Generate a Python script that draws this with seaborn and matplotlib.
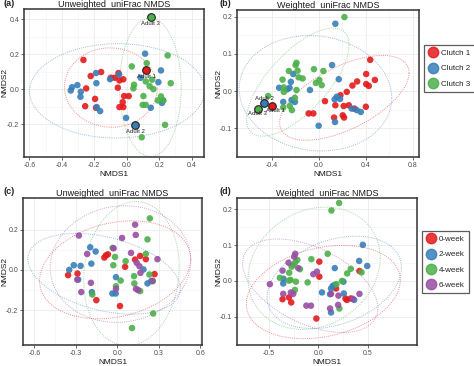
import numpy as np
import pandas as pd
import matplotlib
matplotlib.use('Agg')
import matplotlib.pyplot as plt
import seaborn as sns

# ---- panel (a): unweighted UniFrac, by clutch
a_clutch1 = [(-0.267, 0.167), (-0.222, 0.075), (-0.158, 0.098), (-0.25, 0.004), (-0.195, -0.056),
             (-0.256, -0.098), (-0.189, -0.107), (-0.098, 0.065), (-0.074, 0.065), (-0.051, 0.092),
             (-0.045, 0.05), (-0.021, 0.056), (-0.055, 0.008), (-0.016, -0.04), (0.012, -0.04),
             (-0.025, -0.075), (-0.045, -0.103), (-0.021, -0.103), (0.119, 0.111)]
a_clutch2 = [(-0.345, -0.008), (-0.337, 0.011), (-0.304, 0.023), (-0.283, -0.015), (-0.285, -0.044),
             (-0.189, 0.092), (-0.187, 0.034), (-0.185, -0.103), (-0.164, -0.126), (-0.103, 0.057),
             (-0.047, 0.084), (-0.004, -0.165), (0.113, 0.203), (0.086, 0.065), (0.195, 0.04),
             (0.211, 0.107), (0.222, -0.065), (0.217, -0.079), (0.148, -0.107), (0.053, -0.205)]
a_clutch3 = [(0.148, 0.414), (0.252, 0.193), (0.031, 0.130), (0.123, 0.149), (0.271, 0.034),
             (0.045, 0.025), (0.041, 0.004), (0.117, 0.044), (0.156, 0.054), (0.141, 0.017),
             (0.164, 0.0), (0.103, -0.04), (0.098, -0.09), (0.117, -0.09), (0.191, -0.065),
             (0.211, -0.042), (0.226, -0.065), (0.236, -0.205), (0.092, -0.276)]
a_adult_labels = ['Adult 1', 'Adult 2', 'Adult 3']
a_adult_pts = [(0.119, 0.111), (0.053, -0.205), (0.148, 0.414)]
a_adult_group = ['Clutch 1', 'Clutch 2', 'Clutch 3']

# ---- panel (b): weighted UniFrac, by clutch
b_clutch1 = [(0.438, 0.084), (0.404, 0.046), (0.478, 0.030), (0.327, 0.026), (0.287, 0.015),
             (0.404, 0.019), (0.426, 0.014), (0.239, -0.002), (0.185, -0.011), (0.054, -0.027),
             (0.142, -0.038), (0.213, -0.040), (0.256, -0.038), (0.304, -0.047), (0.401, -0.042),
             (0.131, -0.071), (0.205, -0.065), (0.216, -0.071), (-0.085, -0.060), (-0.045, -0.060),
             (-0.395, -0.040)]
b_clutch2 = [(0.142, 0.181), (0.114, 0.070), (0.171, 0.032), (-0.336, 0.009), (-0.236, 0.025),
             (-0.216, 0.046), (-0.267, 0.005), (-0.247, 0.009), (-0.074, 0.003), (-0.301, -0.029),
             (-0.230, -0.024), (-0.202, -0.029), (0.154, -0.015), (0.182, -0.021), (0.136, -0.022),
             (0.281, -0.047), (0.324, -0.051), (0.358, -0.056), (0.139, -0.083), (0.0, -0.093),
             (-0.461, -0.031)]
b_clutch3 = [(0.219, 0.199), (-0.188, 0.076), (-0.196, 0.070), (-0.253, 0.054), (-0.179, 0.055),
             (-0.307, 0.031), (-0.170, 0.037), (-0.136, 0.034), (-0.040, 0.059), (0.040, 0.054),
             (0.006, 0.030), (-0.023, 0.022), (0.026, 0.016), (-0.296, 0.010), (-0.296, -0.002),
             (-0.188, 0.003), (-0.202, -0.018), (-0.429, -0.013), (-0.245, -0.040), (-0.301, -0.044),
             (-0.227, -0.051), (-0.517, -0.049)]
b_adult_pts = [(-0.395, -0.040), (-0.461, -0.031), (-0.517, -0.049)]

# ---- panel (c): unweighted UniFrac, by age
c_week0 = [(-0.356, -0.026), (-0.288, -0.018), (-0.152, -0.150), (-0.094, 0.061), (-0.082, 0.072),
           (-0.068, 0.077), (0.056, 0.015), (0.128, 0.051), (0.165, 0.069), (0.206, 0.053),
           (0.269, -0.021), (0.019, -0.179)]
c_week2 = [(-0.348, 0.0), (-0.315, 0.023), (-0.266, 0.020), (-0.283, -0.048), (-0.196, 0.112),
           (-0.157, 0.091), (-0.188, 0.031), (-0.184, -0.110), (-0.036, -0.117), (-0.012, -0.117),
           (-0.010, -0.036), (0.189, 0.002), (0.218, -0.067), (0.244, -0.056)]
c_week4 = [(0.235, 0.255), (0.218, 0.151), (0.206, 0.079), (-0.034, 0.109), (-0.017, 0.064),
           (-0.029, 0.023), (0.060, 0.043), (0.024, -0.053), (-0.010, -0.081), (0.121, -0.031),
           (0.123, -0.067), (0.165, -0.105), (0.232, -0.023), (0.256, -0.056), (0.259, -0.216),
           (0.106, -0.288), (-0.181, -0.122)]
c_week6 = [(-0.278, 0.170), (0.128, 0.224), (0.133, 0.173), (0.034, 0.158), (-0.218, 0.079),
           (-0.027, 0.107), (0.099, 0.084), (0.140, 0.035), (0.160, 0.018), (0.167, -0.015),
           (0.290, 0.053), (-0.290, -0.048), (-0.191, -0.064), (-0.261, -0.110), (-0.010, -0.094),
           (0.135, -0.094), (0.150, -0.100), (0.254, -0.054)]

# ---- panel (d): weighted UniFrac, by age
d_week0 = [(0.010, 0.054), (0.010, 0.012), (-0.364, -0.051), (-0.299, -0.046), (-0.276, -0.060),
           (-0.020, -0.105), (0.180, -0.021), (0.276, -0.049), (0.290, -0.053), (0.330, -0.049),
           (0.418, 0.028)]
d_week2 = [(0.452, 0.101), (0.415, 0.056), (0.497, 0.042), (0.167, 0.036), (0.037, -0.032),
           (0.255, -0.002), (0.129, -0.021), (0.146, -0.014), (0.167, -0.011), (0.119, -0.037),
           (0.259, -0.035), (0.364, -0.053), (-0.354, 0.006), (-0.357, -0.007), (0.129, -0.088)]
d_week4 = [(0.211, 0.218), (0.133, 0.197), (0.095, 0.076), (-0.071, 0.061), (-0.214, 0.059),
           (-0.187, 0.033), (-0.235, 0.052), (-0.255, 0.045), (-0.272, 0.040), (-0.296, 0.023),
           (-0.391, 0.009), (-0.228, -0.002), (-0.282, 0.003), (-0.299, 0.001), (-0.238, -0.025),
           (-0.109, -0.004), (0.293, 0.021), (0.330, 0.034), (0.241, 0.0), (0.184, -0.009),
           (0.439, 0.024), (0.214, -0.077)]
d_week6 = [(-0.235, 0.076), (-0.245, 0.068), (-0.303, 0.051), (-0.364, 0.029), (-0.204, 0.036),
           (-0.357, -0.036), (-0.493, -0.009), (-0.279, -0.032), (-0.255, -0.036), (-0.051, 0.019),
           (-0.014, 0.026), (-0.122, -0.069), (-0.075, -0.069), (0.129, -0.036), (0.204, -0.041),
           (0.201, -0.067), (0.418, -0.036), (0.119, -0.077), (0.350, -0.050)]

clutch_names = ['Clutch 1', 'Clutch 2', 'Clutch 3']
week_names = ['0-week', '2-week', '4-week', '6-week']
colors = ['#E41A1C', '#377EB8', '#4DAF4A', '#984EA3']


def make_df(groups, names):
    rows = []
    for name, pts in zip(names, groups):
        for x, y in pts:
            rows.append({'NMDS1': x, 'NMDS2': y, 'group': name})
    return pd.DataFrame(rows)


def ellipse_path(df, level=0.95, npts=200):
    # 95% normal-theory ellipse, like stat_ellipse(type = "norm")
    pts = df[['NMDS1', 'NMDS2']].to_numpy()
    center = pts.mean(axis=0)
    cov = np.cov(pts, rowvar=False)
    dfd = len(pts) - 1
    fq = dfd / 2 * ((1 - level) ** (-2 / dfd) - 1)
    radius = np.sqrt(2 * fq)
    t = np.linspace(0, 2 * np.pi, npts)
    circle = np.column_stack([np.cos(t), np.sin(t)])
    chol = np.linalg.cholesky(cov)
    return center + radius * circle @ chol.T


sns.set_theme(style='whitegrid')
plt.rcParams['font.family'] = ['Liberation Sans', 'DejaVu Sans']

fig = plt.figure(figsize=(4.74, 3.66), dpi=100)
ax_a = fig.add_axes([24 / 474, 1 - 157 / 366, 180 / 474, 148 / 366])
ax_b = fig.add_axes([237 / 474, 1 - 157 / 366, 182 / 474, 147 / 366])
ax_c = fig.add_axes([23 / 474, 1 - 345 / 366, 179 / 474, 147 / 366])
ax_d = fig.add_axes([237 / 474, 1 - 345 / 366, 180 / 474, 147 / 366])

panels = [
    (ax_a, make_df([a_clutch1, a_clutch2, a_clutch3], clutch_names), clutch_names,
     'Unweighted  uniFrac NMDS', (-0.633, 0.476), (-0.389, 0.459),
     [-0.6, -0.4, -0.2, 0.0, 0.2, 0.4], [-0.2, 0.0, 0.2, 0.4], -0.089),
    (ax_b, make_df([b_clutch1, b_clutch2, b_clutch3], clutch_names), clutch_names,
     'Weighted  uniFrac NMDS', (-0.694, 0.853), (-0.177, 0.218),
     [-0.4, 0.0, 0.4, 0.8], [-0.1, 0.0, 0.1, 0.2], -0.082),
    (ax_c, make_df([c_week0, c_week2, c_week4, c_week6], week_names), week_names,
     'Unweighted  uniFrac NMDS', (-0.682, 0.612), (-0.372, 0.356),
     [-0.6, -0.3, 0.0, 0.3, 0.6], [-0.2, 0.0, 0.2], -0.084),
    (ax_d, make_df([d_week0, d_week2, d_week4, d_week6], week_names), week_names,
     'Weighted  uniFrac NMDS', (-0.827, 1.003), (-0.179, 0.232),
     [-0.5, 0.0, 0.5], [-0.1, 0.0, 0.1, 0.2], -0.083),
]

for ax, df, names, title, xlim, ylim, xt, yt, ylab_x in panels:
    pal = dict(zip(names, colors[:len(names)]))
    for name in names:
        path = ellipse_path(df[df['group'] == name])
        ax.plot(path[:, 0], path[:, 1], ls=(0, (1, 1.2)), lw=0.7, color=pal[name], alpha=0.5)
    sns.scatterplot(data=df, x='NMDS1', y='NMDS2', hue='group', hue_order=names, palette=pal,
                    s=22, alpha=0.9, linewidth=0, legend=False, ax=ax, zorder=3)
    ax.set_xlim(*xlim)
    ax.set_ylim(*ylim)
    ax.set_xticks(xt)
    ax.set_yticks(yt)
    ax.set_xticklabels([f'{v:.1f}' for v in xt])
    ax.set_yticklabels([f'{v:.1f}' for v in yt])
    ax.set_xticks([(xt[i] + xt[i + 1]) / 2 for i in range(len(xt) - 1)], minor=True)
    ax.set_yticks([(yt[i] + yt[i + 1]) / 2 for i in range(len(yt) - 1)], minor=True)
    ax.grid(which='major', color='#EBEBEB', lw=0.6)
    ax.grid(which='minor', color='#F4F4F4', lw=0.4)
    ax.tick_params(which='major', labelsize=5, labelcolor='#4D4D4D', length=2, width=0.5,
                   color='#333333', pad=1.5, bottom=True, left=True)
    ax.tick_params(which='minor', length=0)
    for sp in ax.spines.values():
        sp.set_edgecolor('#333333')
        sp.set_linewidth(1.1)
    ax.set_xlabel('NMDS1', fontsize=6, labelpad=1.5, color='#1A1A1A')
    ax.set_ylabel('NMDS2', fontsize=6, color='#1A1A1A')
    ax.yaxis.set_label_coords(ylab_x, 0.5)
    ax.set_title(title, fontsize=6.5, pad=1.5, color='#1A1A1A')

fig.text(4 / 474, 1 - 4 / 366, '(a)', fontsize=6.5, fontweight='bold', va='center', ha='left')
fig.text(220 / 474, 1 - 4 / 366, '(b)', fontsize=6.5, fontweight='bold', va='center', ha='left')
fig.text(3 / 474, 1 - 191 / 366, '(c)', fontsize=6.5, fontweight='bold', va='center', ha='left')
fig.text(219 / 474, 1 - 191 / 366, '(d)', fontsize=6.5, fontweight='bold', va='center', ha='left')

# adult samples: ringed points with labels
for lab, (x, y), grp in zip(a_adult_labels, a_adult_pts, a_adult_group):
    c = colors[clutch_names.index(grp)]
    ax_a.scatter([x], [y], s=30, color=c, edgecolor='#222222', linewidth=0.8, zorder=4)
    ax_a.text(x, y - 0.022, lab, fontsize=4.3, ha='center', va='top', color='#222222', zorder=5)
b_label_offsets = [(0.03, -0.005), (0.0, 0.005), (0.0, -0.005)]
for lab, (x, y), grp, (dx, dy) in zip(a_adult_labels, b_adult_pts, a_adult_group, b_label_offsets):
    c = colors[clutch_names.index(grp)]
    ax_b.scatter([x], [y], s=30, color=c, edgecolor='#222222', linewidth=0.8, zorder=4)
    ax_b.text(x + dx, y + dy, lab, fontsize=4.3, ha='center', va='top' if dy < 0 else 'bottom',
              color='#222222', zorder=5)


def add_legend(names, anchor):
    handles = [plt.Line2D([], [], marker='o', ls='', markersize=7.5, markerfacecolor=c,
                          markeredgecolor=c, alpha=0.85) for c in colors[:len(names)]]
    leg = fig.legend(handles, names, loc='upper left', bbox_to_anchor=anchor, fontsize=5.8,
                     frameon=True, fancybox=False, edgecolor='#333333', handletextpad=0.45,
                     borderpad=0.55, borderaxespad=0, labelspacing=0.95, handlelength=1.1)
    leg.get_frame().set_linewidth(0.9)


add_legend(clutch_names, (424 / 474, 1 - 45 / 366))
add_legend(week_names, (422 / 474, 1 - 231 / 366))

fig.savefig('out.png', dpi=100)
